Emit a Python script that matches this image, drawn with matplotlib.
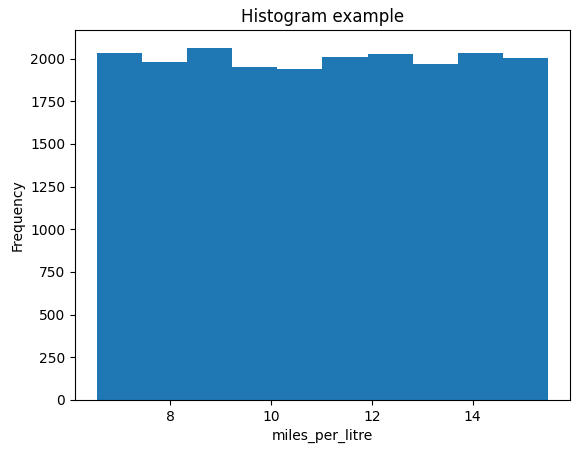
import numpy as np
import matplotlib
matplotlib.use("Agg")
import matplotlib.pyplot as plt

bin_min = 6.555
bin_max = 15.485
counts = [2030, 1980, 2065, 1950, 1940, 2010, 2025, 1970, 2030, 2005]

edges = np.linspace(bin_min, bin_max, len(counts) + 1)
fig, ax = plt.subplots(figsize=(5.8, 4.53), dpi=100)
fig.subplots_adjust(left=0.129, right=0.983, top=0.934, bottom=0.117)
ax.hist(edges[:-1], bins=edges, weights=counts, color="#1f77b4")
ax.set_title("Histogram example")
ax.set_xlabel("miles_per_litre")
ax.set_ylabel("Frequency")
fig.savefig("out.png")
